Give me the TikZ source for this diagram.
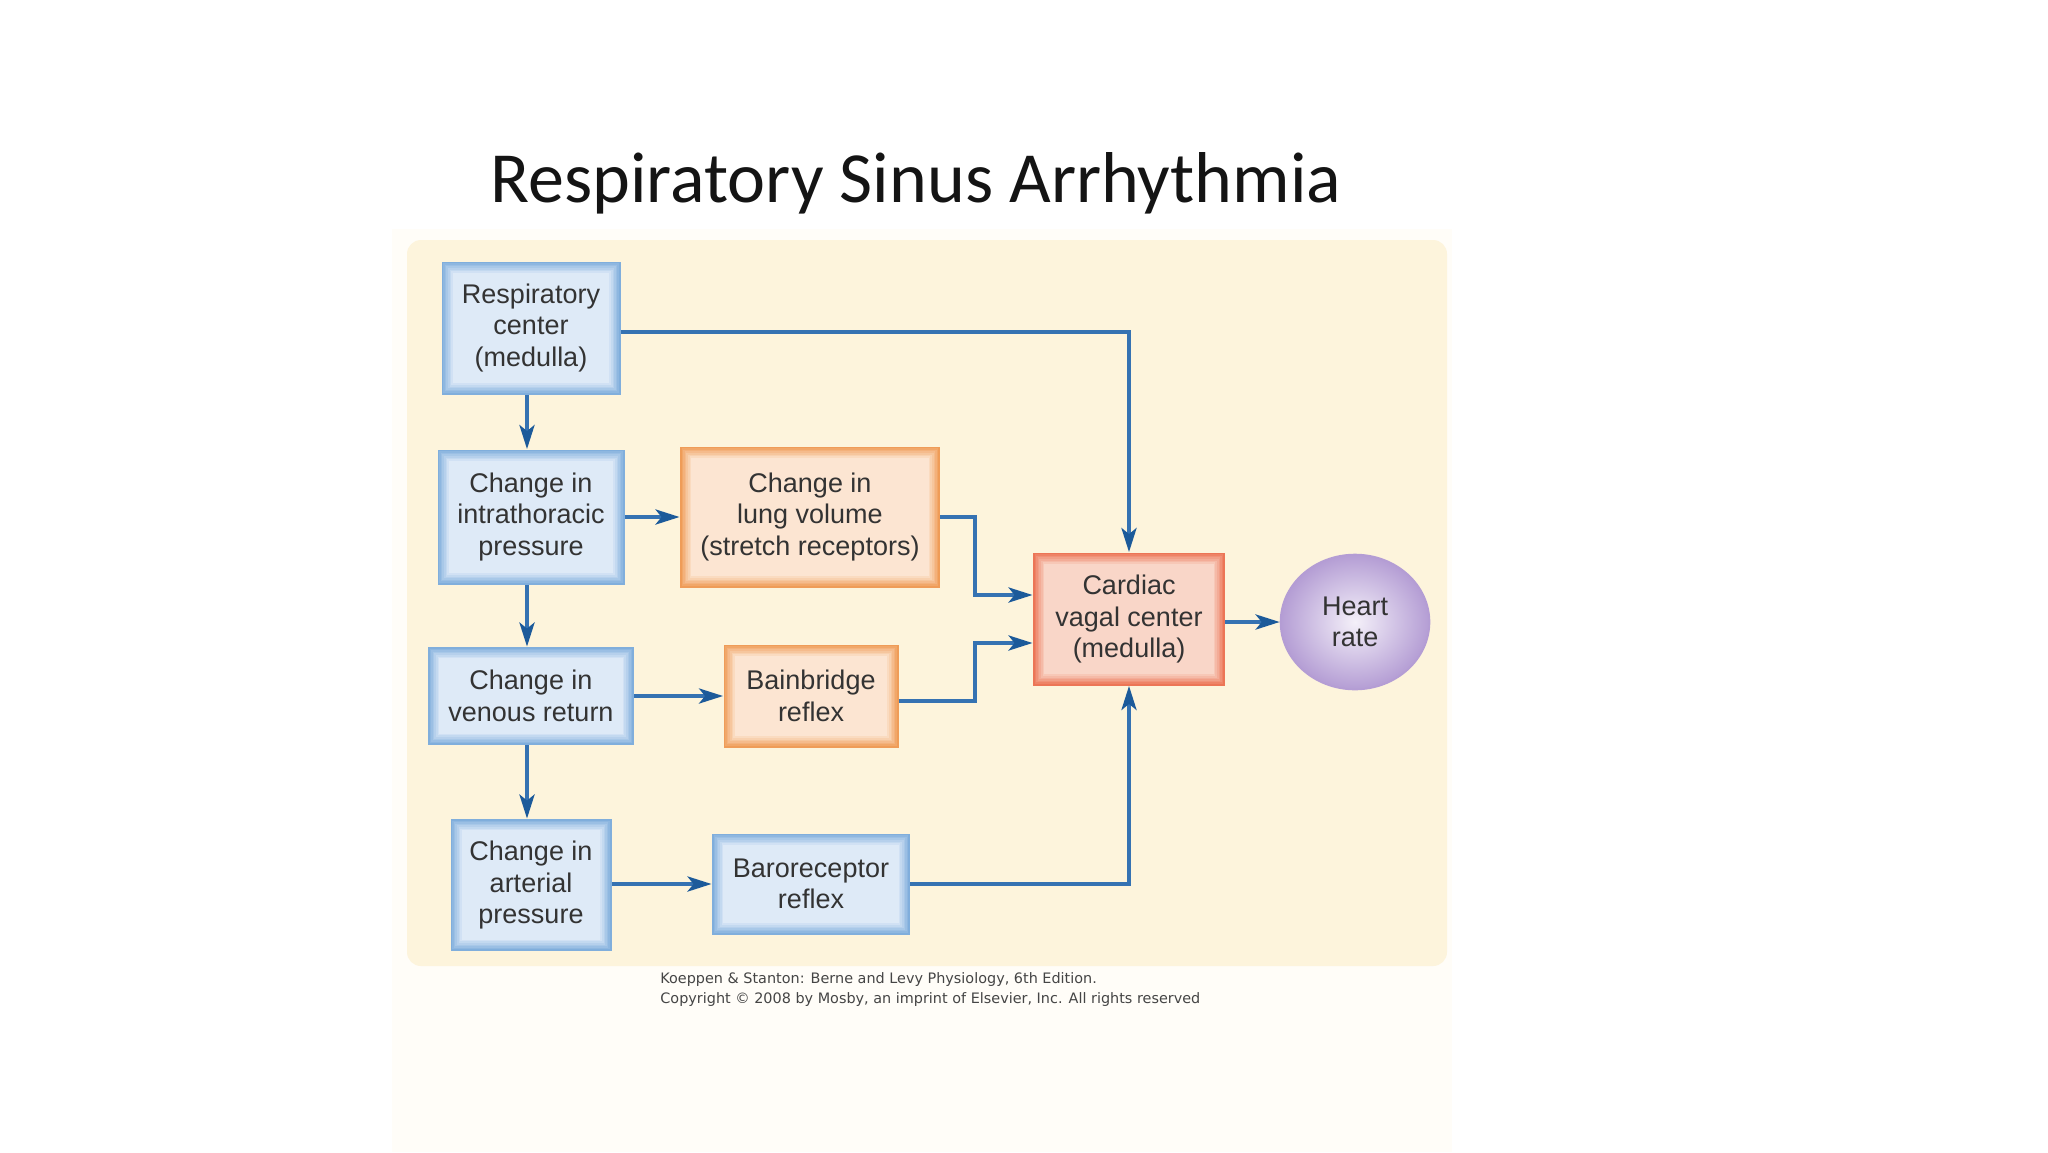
\documentclass[tikz,border=0pt]{standalone}
\usepackage{fontspec}
\setmainfont{Liberation Sans}
\newfontfamily\titlefont{Carlito}
\newfontfamily\creditfont{DejaVu Sans}
\usetikzlibrary{arrows.meta,shapes.geometric}
\definecolor{panelc}{HTML}{FDF4DC}
\definecolor{washc}{HTML}{FFFDF8}
\definecolor{bOut}{HTML}{80AEDC}
\definecolor{bIn}{HTML}{E0EBF8}
\definecolor{oOut}{HTML}{EF9C58}
\definecolor{oIn}{HTML}{FCE7D4}
\definecolor{rOut}{HTML}{EC7556}
\definecolor{rIn}{HTML}{F9D8CA}
\definecolor{hOut}{HTML}{B49DD4}
\definecolor{hIn}{HTML}{F4F0F9}
\definecolor{lineblue}{HTML}{3572B2}
\definecolor{headblue}{HTML}{1C5A9A}
\definecolor{textgray}{HTML}{333333}
\definecolor{credgray}{HTML}{454545}
\begin{document}
\begin{tikzpicture}[x=0.5pt,y=-0.5pt,
  txt/.style={font=\fontsize{13.5}{15.7}\selectfont, text=textgray, align=center, inner sep=0pt},
  wh/.style 2 args={minimum width=#1*0.5pt, minimum height=#2*0.5pt},
  layered/.style 2 args={rectangle, fill=#1, txt, path picture={
    \foreach \i in {1,...,7}{
      \pgfmathtruncatemacro\p{\i*14}
      \fill[#2!\p!#1] ([shift={(\i*0.8pt,\i*0.8pt)}]path picture bounding box.south west) rectangle ([shift={(-\i*0.8pt,-\i*0.8pt)}]path picture bounding box.north east);
    }}},
  bluebox/.style={layered={bOut}{bIn}},
  orangebox/.style={layered={oOut}{oIn}},
  redbox/.style={layered={rOut}{rIn}},
  arr/.style={draw=lineblue, line width=2pt, -{Stealth[length=12pt,width=7.5pt,inset=3pt,color=headblue]}}
]
\useasboundingbox (0,0) rectangle (2048,1152);
\fill[white] (0,0) rectangle (2048,1152);
\fill[washc] (392,229) rectangle (1452,1152);
\fill[panelc, rounded corners=7pt] (407,240) rectangle (1447,966);

\node[font=\titlefont\fontsize{36}{40}\selectfont, text=black!92, anchor=base, inner sep=0pt] (title) at (916,202) {Respiratory Sinus Arrhythmia};

\node[bluebox, wh={179}{133}] (resp) at (531,328) {Respiratory\\center\\(medulla)};
\node[bluebox, wh={187}{135}] (intra) at (531,517) {Change in\\intrathoracic\\pressure};
\node[bluebox, wh={206}{98}] (venous) at (531,696) {Change in\\venous return};
\node[bluebox, wh={161}{132}] (arterial) at (531,885) {Change in\\arterial\\pressure};
\node[orangebox, wh={260}{141}] (lung) at (810,517) {Change in\\lung volume\\(stretch receptors)};
\node[orangebox, wh={175}{103}] (bain) at (811,696) {Bainbridge\\reflex};
\node[bluebox, wh={198}{101}] (baro) at (811,884) {Baroreceptor\\reflex};
\node[redbox, wh={192}{133}] (cardiac) at (1129,619) {Cardiac\\vagal center\\(medulla)};
\node[ellipse, wh={149}{135}, shading=radial, inner color=hIn, outer color=hOut, draw=hOut, line width=0.8pt, txt] (heart) at (1355,622) {Heart\\rate};

\coordinate (ax) at (527,0);
\coordinate (jx) at (975,0);
\coordinate (cinA) at ([yshift=12pt]cardiac.west);
\coordinate (cinB) at ([yshift=-12pt]cardiac.west);
\coordinate (respOut) at ([yshift=-2pt]resp.east);
\coordinate (bainOut) at ([yshift=-2.5pt]bain.east);

\draw[arr] (resp.south -| ax) -- (intra.north -| ax);
\draw[arr] (intra.south -| ax) -- (venous.north -| ax);
\draw[arr] (venous.south -| ax) -- (arterial.north -| ax);

\draw[arr] (intra.east) -- (lung.west);
\draw[arr] (venous.east) -- (bain.west);
\draw[arr] (arterial.east |- baro.west) -- (baro.west);

\draw[arr] (respOut) -- (respOut -| cardiac.north) -- (cardiac.north);
\draw[arr] (lung.east) -- (lung.east -| jx) -- (jx |- cinA) -- (cinA);
\draw[arr] (bainOut) -- (bainOut -| jx) -- (jx |- cinB) -- (cinB);
\draw[arr] (baro.east) -- (baro.east -| cardiac.south) -- (cardiac.south);
\draw[arr] (cardiac.east |- heart.west) -- (heart.west);

\node[font=\creditfont\fontsize{7.2}{10}\selectfont, text=credgray, anchor=north west, align=left, inner sep=0pt] (credit) at (660,972) {Koeppen \& Stanton: Berne and Levy Physiology, 6th Edition.\\Copyright \textcopyright{} 2008 by Mosby, an imprint of Elsevier, Inc. All rights reserved};
\end{tikzpicture}
\end{document}
